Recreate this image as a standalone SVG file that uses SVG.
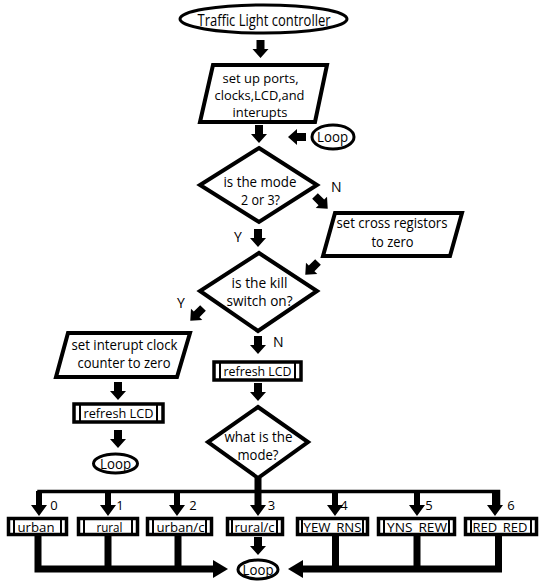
<svg xmlns="http://www.w3.org/2000/svg" xmlns:xlink="http://www.w3.org/1999/xlink" width="545" height="587" viewBox="0 0 545 587">
<style>
.shape{fill:#fff;stroke:#000;stroke-width:4;stroke-linejoin:miter}
.oval{fill:#fff;stroke:#000;stroke-width:3}
.pp{fill:#fff;stroke:#000;stroke-width:3.5}
.ppl{stroke:#000;stroke-width:2}
.arr{fill:#000}
.wire{fill:none;stroke:#000;stroke-linejoin:miter}
text{font-family:"Open Sans","Noto Sans","DejaVu Sans",sans-serif;fill:#000;text-anchor:middle}
.t13{font-size:14px}
.tp{font-size:13px}
.t15{font-size:16px}
.t14{font-size:15px}
.t12{font-size:13px}
.t11{font-size:12.5px}
.lbl{font-size:14px;text-anchor:start}
</style>
<defs>
<path id="arr" class="arr" d="M-4,0 H4 V9 H8 L0,18 L-8,9 H-4 Z"/>
</defs>
<rect width="545" height="587" fill="#fff"/>

<g id="connectors">
<use xlink:href="#arr" href="#arr" transform="translate(260.5,40)"/>
<use xlink:href="#arr" href="#arr" transform="translate(259,125)"/>
<use xlink:href="#arr" href="#arr" transform="translate(306,137) rotate(90)"/>
<use xlink:href="#arr" href="#arr" transform="translate(315,196) rotate(-45)"/>
<use xlink:href="#arr" href="#arr" transform="translate(258,229)"/>
<use xlink:href="#arr" href="#arr" transform="translate(318,262) rotate(45)"/>
<use xlink:href="#arr" href="#arr" transform="translate(203,308) rotate(45)"/>
<use xlink:href="#arr" href="#arr" transform="translate(258,336)"/>
<use xlink:href="#arr" href="#arr" transform="translate(118,382)"/>
<use xlink:href="#arr" href="#arr" transform="translate(258,383)"/>
<use xlink:href="#arr" href="#arr" transform="translate(118,430)"/>
<use xlink:href="#arr" href="#arr" transform="translate(258,537)"/>
<!-- mode bus -->
<path class="wire" stroke-width="3.5" d="M39,505 V491.5 H498.5 V505"/>
<path class="arr" d="M254.5,478 H261.5 V505 H266 L258,516 L250,505 H254.5 Z"/>
<path class="arr" d="M36,491 H42 V505 H47 L39,516 L31,505 H36 Z"/>
<path class="arr" d="M105,491 H111 V505 H116 L108,516 L100,505 H105 Z"/>
<path class="arr" d="M174,491 H180 V505 H185 L177,516 L169,505 H174 Z"/>
<path class="arr" d="M332,491 H338 V505 H343 L335,516 L327,505 H332 Z"/>
<path class="arr" d="M414,491 H420 V505 H425 L417,516 L409,505 H414 Z"/>
<path class="arr" d="M492,491 H498 V505 H503 L495,516 L487,505 H492 Z"/>
<!-- collectors to Loop -->
<path class="wire" stroke-width="7" d="M38,534 V569 H216"/>
<path class="wire" stroke-width="7" d="M108,534 V569"/>
<path class="wire" stroke-width="7" d="M178,534 V569"/>
<path class="arr" d="M213,560 L228,569 L213,578 Z"/>
<path class="wire" stroke-width="7" d="M498.5,534 V569 H300"/>
<path class="wire" stroke-width="7" d="M335.5,534 V569"/>
<path class="wire" stroke-width="7" d="M417,534 V569"/>
<path class="arr" d="M303,560 L288,569 L303,578 Z"/>
</g>

<g id="start">
<ellipse class="oval" cx="263.5" cy="19" rx="83.5" ry="14"/>
<text class="t15" x="264" y="25.5" textLength="133" lengthAdjust="spacingAndGlyphs">Traffic Light controller</text>
</g>

<g id="setup">
<polygon class="shape" points="213,65 327,65 315,122 200,122"/>
<text class="tp" x="260.5" y="83" textLength="76" lengthAdjust="spacingAndGlyphs">set up ports,</text>
<text class="tp" x="259.5" y="100" textLength="90" lengthAdjust="spacingAndGlyphs">clocks,LCD,and</text>
<text class="tp" x="260" y="117" textLength="55" lengthAdjust="spacingAndGlyphs">interupts</text>
</g>

<g id="loop-top">
<ellipse class="oval" cx="333" cy="137" rx="21" ry="12"/>
<text class="t14" x="332.5" y="142" textLength="31" lengthAdjust="spacingAndGlyphs">Loop</text>
</g>

<g id="mode23">
<polygon class="shape" points="259,148 317,185 259,222 200,185"/>
<text class="t13" x="260" y="187" textLength="73" lengthAdjust="spacingAndGlyphs">is the mode</text>
<text class="t13" x="260.5" y="205" textLength="39" lengthAdjust="spacingAndGlyphs">2 or 3?</text>
<text class="lbl" x="331" y="192">N</text>
<text class="lbl" x="234" y="242">Y</text>
</g>

<g id="cross">
<polygon class="shape" points="335,213 462,213 450,256 323,256"/>
<text class="t13" x="392" y="228" textLength="111" lengthAdjust="spacingAndGlyphs">set cross registors</text>
<text class="t13" x="392.5" y="247" textLength="42" lengthAdjust="spacingAndGlyphs">to zero</text>
</g>

<g id="kill">
<polygon class="shape" points="259,253 317,291 258,331 200,291"/>
<text class="t13" x="259.5" y="288" textLength="56" lengthAdjust="spacingAndGlyphs">is the kill</text>
<text class="t13" x="259.5" y="306" textLength="66" lengthAdjust="spacingAndGlyphs">switch on?</text>
<text class="lbl" x="177" y="308">Y</text>
<text class="lbl" x="273" y="347">N</text>
</g>

<g id="interupt">
<polygon class="shape" points="68,333 190,333 177,377 56,377"/>
<text class="t13" x="124.5" y="350" textLength="106" lengthAdjust="spacingAndGlyphs">set interupt clock</text>
<text class="t13" x="124" y="368" textLength="93" lengthAdjust="spacingAndGlyphs">counter to zero</text>
</g>

<g id="refresh-mid">
<rect class="pp" x="214" y="362" width="87" height="18"/>
<line class="ppl" x1="220" y1="363" x2="220" y2="379"/>
<line class="ppl" x1="295" y1="363" x2="295" y2="379"/>
<text class="t12" x="257.5" y="375.5" textLength="68" lengthAdjust="spacingAndGlyphs">refresh LCD</text>
</g>

<g id="refresh-left">
<rect class="pp" x="74" y="404" width="89" height="18"/>
<line class="ppl" x1="80" y1="405" x2="80" y2="421"/>
<line class="ppl" x1="157" y1="405" x2="157" y2="421"/>
<text class="t12" x="118.5" y="418" textLength="70" lengthAdjust="spacingAndGlyphs">refresh LCD</text>
</g>

<g id="loop-left">
<ellipse class="oval" cx="115.5" cy="463.5" rx="22" ry="9.5"/>
<text class="t14" x="115.5" y="469" textLength="31" lengthAdjust="spacingAndGlyphs">Loop</text>
</g>

<g id="whatmode">
<polygon class="shape" points="258,407 308,442 258,478 208,442"/>
<text class="t13" x="258.5" y="442" textLength="68" lengthAdjust="spacingAndGlyphs">what is the</text>
<text class="t13" x="258" y="460" textLength="41" lengthAdjust="spacingAndGlyphs">mode?</text>
</g>

<g id="case-labels">
<text class="t12" x="54" y="510">0</text>
<text class="t12" x="120" y="510">1</text>
<text class="t12" x="193" y="510">2</text>
<text class="t12" x="271.5" y="510">3</text>
<text class="t12" x="344" y="510">4</text>
<text class="t12" x="429" y="510">5</text>
<text class="t12" x="511" y="510">6</text>
</g>

<g id="urban">
<rect class="pp" x="8.5" y="518.5" width="58" height="16"/>
<line class="ppl" x1="14" y1="519.5" x2="14" y2="533.5"/>
<line class="ppl" x1="61" y1="519.5" x2="61" y2="533.5"/>
<text class="t11" x="36" y="531.5" textLength="37" lengthAdjust="spacingAndGlyphs">urban</text>
</g>
<g id="rural">
<rect class="pp" x="78.5" y="518.5" width="59" height="16"/>
<line class="ppl" x1="84" y1="519.5" x2="84" y2="533.5"/>
<line class="ppl" x1="132" y1="519.5" x2="132" y2="533.5"/>
<text class="t11" x="109.5" y="531.5" textLength="26" lengthAdjust="spacingAndGlyphs">rural</text>
</g>
<g id="urban-c">
<rect class="pp" x="147.5" y="518.5" width="64" height="16"/>
<line class="ppl" x1="153" y1="519.5" x2="153" y2="533.5"/>
<line class="ppl" x1="206" y1="519.5" x2="206" y2="533.5"/>
<text class="t11" x="180.5" y="531.5" textLength="48" lengthAdjust="spacingAndGlyphs">urban/c</text>
</g>
<g id="rural-c">
<rect class="pp" x="227.5" y="518.5" width="55" height="16"/>
<line class="ppl" x1="232" y1="519.5" x2="232" y2="533.5"/>
<line class="ppl" x1="277" y1="519.5" x2="277" y2="533.5"/>
<text class="t11" x="254.5" y="531.5" textLength="40" lengthAdjust="spacingAndGlyphs">rural/c</text>
</g>
<g id="yew-rns">
<rect class="pp" x="297.5" y="518.5" width="70" height="16"/>
<line class="ppl" x1="302" y1="519.5" x2="302" y2="533.5"/>
<line class="ppl" x1="363" y1="519.5" x2="363" y2="533.5"/>
<text class="t11" x="332.5" y="531.5" textLength="58" lengthAdjust="spacingAndGlyphs">YEW_RNS</text>
</g>
<g id="yns-rew">
<rect class="pp" x="378.5" y="518.5" width="76" height="16"/>
<line class="ppl" x1="384" y1="519.5" x2="384" y2="533.5"/>
<line class="ppl" x1="449" y1="519.5" x2="449" y2="533.5"/>
<text class="t11" x="417" y="531.5" textLength="60" lengthAdjust="spacingAndGlyphs">YNS_REW</text>
</g>
<g id="red-red">
<rect class="pp" x="465.5" y="518.5" width="71" height="16"/>
<line class="ppl" x1="471" y1="519.5" x2="471" y2="533.5"/>
<line class="ppl" x1="531" y1="519.5" x2="531" y2="533.5"/>
<text class="t11" x="500" y="531.5" textLength="55" lengthAdjust="spacingAndGlyphs">RED_RED</text>
</g>

<g id="loop-bottom">
<ellipse class="oval" cx="258" cy="569.5" rx="20" ry="9.5"/>
<text class="t14" x="258" y="574.5" textLength="31" lengthAdjust="spacingAndGlyphs">Loop</text>
</g>
</svg>
